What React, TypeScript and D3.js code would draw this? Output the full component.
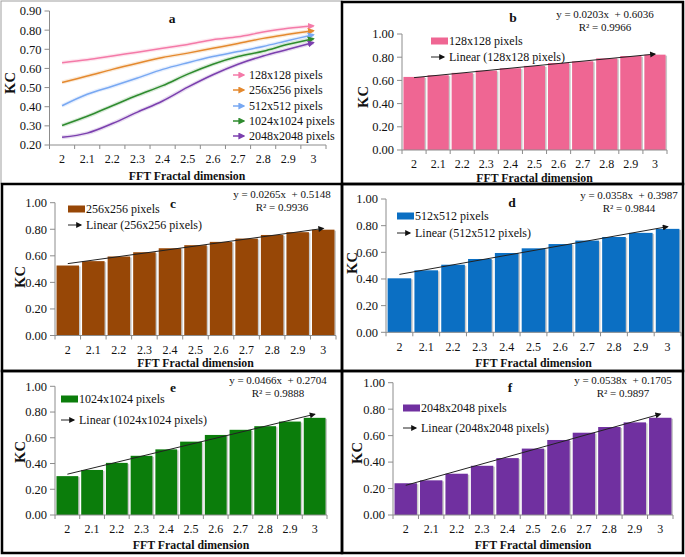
import * as d3 from "d3"

// FFT fractal dimension categories
const dims = ["2", "2.1", "2.2", "2.3", "2.4", "2.5", "2.6", "2.7", "2.8", "2.9", "3"]

// KC values per image size
const kc128 = [0.63, 0.645, 0.665, 0.685, 0.705, 0.725, 0.75, 0.765, 0.79, 0.81, 0.822]
const kc256 = [0.527, 0.56, 0.595, 0.627, 0.657, 0.68, 0.705, 0.73, 0.757, 0.778, 0.797]
const kc512 = [0.405, 0.465, 0.507, 0.55, 0.595, 0.63, 0.662, 0.688, 0.715, 0.746, 0.776]
const kc1024 = [0.302, 0.35, 0.405, 0.46, 0.51, 0.57, 0.622, 0.662, 0.69, 0.726, 0.755]
const kc2048 = [0.24, 0.262, 0.312, 0.372, 0.43, 0.502, 0.567, 0.622, 0.665, 0.7, 0.735]

const seriesNames = [
  "128x128 pixels",
  "256x256 pixels",
  "512x512 pixels",
  "1024x1024 pixels",
  "2048x2048 pixels",
]

// linear fit stats shown on each bar panel
const slopes = ["0.0203", "0.0265", "0.0358", "0.0466", "0.0538"]
const intercepts = ["0.6036", "0.5148", "0.3987", "0.2704", "0.1705"]
const rSquared = ["0.9966", "0.9936", "0.9844", "0.9888", "0.9897"]

const allSeries = [kc128, kc256, kc512, kc1024, kc2048]

const lineColors = ["#f47aa8", "#e4892e", "#78a8f2", "#2e8b2e", "#7b3fae"]
const barColors = ["#ef6693", "#974706", "#0b6fc3", "#0b7d0b", "#7030a0"]

const FONT = '"Liberation Serif", Tinos, "Times New Roman", serif'
const AXIS = "#8c8c8c"

type Layout = {
  letter: string
  box: [number, number, number, number]
  x: [number, number]
  y: [number, number]
  labelY: number
  titleY: number
  kc: [number, number]
  letterPos: [number, number]
  eqX: number
  eqY: number
  legX: number
  legY: number
  arrowY: number
}

const barLayouts: Layout[] = [
  { letter: "b", box: [342, 2, 683, 184], x: [402, 667], y: [150, 34], labelY: 164, titleY: 177.5, kc: [363, 97], letterPos: [513, 17], eqX: 605, eqY: 14, legX: 431, legY: 41, arrowY: 57 },
  { letter: "c", box: [2, 184, 342, 371], x: [55, 336], y: [335.5, 202.7], labelY: 349.5, titleY: 363, kc: [20, 277], letterPos: [173, 203], eqX: 282, eqY: 194, legX: 68, legY: 209, arrowY: 225 },
  { letter: "d", box: [342, 184, 683, 371], x: [386, 681], y: [332.3, 199], labelY: 347, titleY: 363, kc: [352, 263], letterPos: [512, 202], eqX: 629, eqY: 195, legX: 397, legY: 216, arrowY: 233 },
  { letter: "e", box: [2, 371, 342, 553], x: [55, 327], y: [515, 386.3], labelY: 529, titleY: 545, kc: [20, 452], letterPos: [173, 387], eqX: 278, eqY: 380, legX: 61, legY: 399, arrowY: 420 },
  { letter: "f", box: [342, 371, 683, 553], x: [393, 673], y: [515, 382.7], labelY: 529, titleY: 545, kc: [357, 453], letterPos: [510, 387], eqX: 623, eqY: 380, legX: 403, legY: 408, arrowY: 428 },
]

function XAxis({ x, y0, labelY }: { x: d3.ScaleBand<string>; y0: number; labelY: number }) {
  const [r0, r1] = x.range()
  const half = (x.step() - x.bandwidth()) / 2
  return (
    <g>
      <line x1={r0} x2={r1} y1={y0} y2={y0} stroke={AXIS} />
      {x.domain().map((d) => (
        <line key={d} x1={x(d)! - half} x2={x(d)! - half} y1={y0} y2={y0 + 4} stroke={AXIS} />
      ))}
      <line x1={r1} x2={r1} y1={y0} y2={y0 + 4} stroke={AXIS} />
      {x.domain().map((d) => (
        <text key={d} x={x(d)! + x.bandwidth() / 2} y={labelY} dy="0.35em" textAnchor="middle" fontSize={12}>
          {d}
        </text>
      ))}
    </g>
  )
}

function YAxis({ y, x0 }: { y: d3.ScaleLinear<number, number>; x0: number }) {
  const ticks = y.ticks(y.domain()[0] === 0 ? 5 : 7)
  const fmt = d3.format(".2f")
  const [b, t] = y.range()
  return (
    <g>
      <line x1={x0} x2={x0} y1={b} y2={t} stroke={AXIS} />
      {ticks.map((v) => (
        <g key={v}>
          <line x1={x0 - 5} x2={x0} y1={y(v)} y2={y(v)} stroke={AXIS} />
          <text x={x0 - 8} y={y(v)} dy="0.35em" textAnchor="end" fontSize={12.5}>
            {fmt(v)}
          </text>
        </g>
      ))}
    </g>
  )
}

function Titles({ cx, titleY, kc }: { cx: number; titleY: number; kc: [number, number] }) {
  return (
    <g fontWeight="bold">
      <text x={cx} y={titleY} dy="0.35em" textAnchor="middle" fontSize={11.8}>
        FFT Fractal dimension
      </text>
      <text transform={`translate(${kc[0]},${kc[1]}) rotate(-90)`} dy="0.35em" textAnchor="middle" fontSize={14.5}>
        KC
      </text>
    </g>
  )
}

function LinePanel() {
  const x = d3.scaleBand<string>().domain(dims).range([49.5, 326]).padding(0)
  const y = d3.scaleLinear().domain([0.2, 0.9]).range([145, 11])
  const cx = (d: string) => x(d)! + x.bandwidth() / 2
  const line = d3
    .line<number>()
    .x((_, i) => cx(dims[i]))
    .y((v) => y(v))
    .curve(d3.curveCatmullRom.alpha(0.5))
  const legY = [75, 90, 106, 121, 136]
  return (
    <g>
      <rect x={1} y={1} width={341} height={183} fill="white" stroke="#a0a0a0" strokeWidth={1} />
      <YAxis y={y} x0={49.5} />
      <XAxis x={x} y0={145} labelY={159} />
      {allSeries.map((s, i) => (
        <g key={i}>
          <path d={line(s) ?? ""} fill="none" stroke={lineColors[i]} strokeWidth={4} opacity={0.18} />
          <path d={line(s) ?? ""} fill="none" stroke={lineColors[i]} strokeWidth={1.5} markerEnd={`url(#arr${i})`} />
        </g>
      ))}
      {seriesNames.map((n, i) => (
        <g key={n}>
          <line x1={233} x2={244} y1={legY[i]} y2={legY[i]} stroke={lineColors[i]} strokeWidth={1.5} markerEnd={`url(#arr${i})`} />
          <text x={249} y={legY[i]} dy="0.35em" fontSize={12}>
            {n}
          </text>
        </g>
      ))}
      <text x={172} y={18} dy="0.35em" textAnchor="middle" fontSize={13.5} fontWeight="bold">
        a
      </text>
      <Titles cx={187} titleY={176} kc={[10, 83]} />
    </g>
  )
}

function BarPanel({ idx, lay }: { idx: number; lay: Layout }) {
  const data = allSeries[idx]
  const color = barColors[idx]
  const x = d3.scaleBand<string>().domain(dims).range(lay.x).paddingInner(0.12).paddingOuter(0.06)
  const y = d3.scaleLinear().domain([0, 1]).range(lay.y)
  const slope = +slopes[idx]
  const icpt = +intercepts[idx]
  const cx = (d: string) => x(d)! + x.bandwidth() / 2
  const [bx0, by0, bx1, by1] = lay.box
  return (
    <g>
      <YAxis y={y} x0={lay.x[0]} />
      {dims.map((d, i) => (
        <g key={d}>
          <rect x={x(d)! + 1.5} y={y(data[i]) + 1} width={x.bandwidth()} height={y(0) - y(data[i]) - 1} fill="#c8c8c8" />
          <rect x={x(d)} y={y(data[i])} width={x.bandwidth()} height={y(0) - y(data[i])} fill={color} />
        </g>
      ))}
      <XAxis x={x} y0={y(0)} labelY={lay.labelY} />
      <line
        x1={cx(dims[0])}
        y1={y(slope * 1 + icpt)}
        x2={cx(dims[dims.length - 1])}
        y2={y(slope * dims.length + icpt)}
        stroke="#222"
        strokeWidth={1}
        markerEnd="url(#arrK)"
      />
      <rect x={lay.legX} y={lay.legY - 3.5} width={17} height={7} fill={color} />
      <text x={lay.legX + 18} y={lay.legY} dy="0.35em" fontSize={12}>
        {seriesNames[idx]}
      </text>
      <line x1={lay.legX} x2={lay.legX + 13} y1={lay.arrowY} y2={lay.arrowY} stroke="#222" strokeWidth={1} markerEnd="url(#arrK)" />
      <text x={lay.legX + 18} y={lay.arrowY} dy="0.35em" fontSize={12}>
        {`Linear (${seriesNames[idx]})`}
      </text>
      <text x={lay.eqX} y={lay.eqY} dy="0.35em" textAnchor="middle" fontSize={11} style={{ whiteSpace: "pre" }}>
        {`y = ${slopes[idx]}x  + ${intercepts[idx]}`}
      </text>
      <text x={lay.eqX} y={lay.eqY + 13.5} dy="0.35em" textAnchor="middle" fontSize={11}>
        {`R² = ${rSquared[idx]}`}
      </text>
      <text x={lay.letterPos[0]} y={lay.letterPos[1]} dy="0.35em" textAnchor="middle" fontSize={13.5} fontWeight="bold">
        {lay.letter}
      </text>
      <Titles cx={(lay.x[0] + lay.x[1]) / 2} titleY={lay.titleY} kc={lay.kc} />
      <rect x={bx0} y={by0} width={bx1 - bx0} height={by1 - by0} fill="none" stroke="#000" strokeWidth={2.5} />
    </g>
  )
}

export default function App() {
  return (
    <svg
      width={685}
      height={557}
      viewBox="0 0 685 557"
      style={{ position: "absolute", left: 0, top: 0, background: "white", fontFamily: FONT }}
      fill="#111"
    >
      <defs>
        {lineColors.map((c, i) => (
          <marker key={c} id={`arr${i}`} viewBox="0 0 10 10" refX={8} refY={5} markerWidth={7} markerHeight={7} markerUnits="userSpaceOnUse" orient="auto">
            <path d="M0,0 L10,5 L0,10 z" fill={c} />
          </marker>
        ))}
        <marker id="arrK" viewBox="0 0 10 10" refX={8} refY={5} markerWidth={7} markerHeight={6} markerUnits="userSpaceOnUse" orient="auto">
          <path d="M0,0 L10,5 L0,10 z" fill="#111" />
        </marker>
      </defs>
      <rect width={685} height={557} fill="white" />
      <LinePanel />
      {barLayouts.map((lay, i) => (
        <BarPanel key={lay.letter} idx={i} lay={lay} />
      ))}
    </svg>
  )
}
